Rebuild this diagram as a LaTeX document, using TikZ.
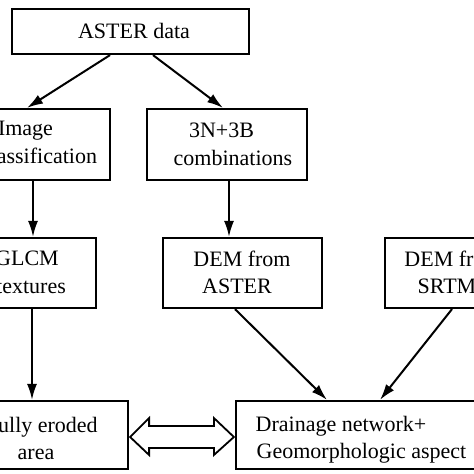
\documentclass[tikz,border=0pt]{standalone}
\usepackage{fontspec}
\setmainfont{Liberation Serif}
\usetikzlibrary{arrows.meta,calc}
\begin{document}
\begin{tikzpicture}[x=1pt,y=-1pt,
  box/.style={draw=black,line width=2.2pt,rectangle,inner sep=0pt,fill=white},
  txt/.style={anchor=base,inner sep=0pt,font=\fontsize{22}{27}\selectfont},
  conn/.style={line width=2pt,-{Latex[length=16pt,width=10pt]}},
  dbl/.style={line width=1.8pt,fill=white,line join=miter}]
\useasboundingbox (0,0) rectangle (474,474);
\clip (0,0) rectangle (474,474);
\fill[white] (0,0) rectangle (474,474);
% boxes
\node[box,minimum width=237pt,minimum height=45pt] (aster) at (130.5,31.5) {};
\node[box,minimum width=140pt,minimum height=71pt] (img) at (40,144.5) {};
\node[box,minimum width=160pt,minimum height=71pt] (comb) at (227,144.5) {};
\node[box,minimum width=126pt,minimum height=70pt] (glcm) at (33,273) {};
\node[box,minimum width=159pt,minimum height=70pt] (dema) at (242.5,273) {};
\node[box,minimum width=135pt,minimum height=70pt] (dems) at (452.5,273) {};
\node[box,minimum width=158pt,minimum height=68pt] (gully) at (49,435) {};
\node[box,minimum width=284pt,minimum height=68pt] (drain) at (378,435) {};
% texts
\node[txt] (t1) at (134,38) {ASTER data};
\node[txt] (t2a) at (25.5,135) {Image};
\node[txt] (t2b) at (39,163) {classification};
\node[txt] (t3a) at (221.5,137) {3N+3B};
\node[txt] (t3b) at (233,165) {combinations};
\node[txt] (t4a) at (27,265) {GLCM};
\node[txt] (t4b) at (31,293) {textures};
\node[txt] (t5a) at (242,266) {DEM from};
\node[txt] (t5b) at (237,293) {ASTER};
\node[txt] (t6a) at (453,266) {DEM from};
\node[txt] (t6b) at (447,293) {SRTM};
\node[txt] (t7a) at (40,432) {Gully eroded};
\node[txt] (t7b) at (36,459) {area};
\node[txt] (t8a) at (341,431) {Drainage network+};
\node[txt] (t8b) at (361.5,458) {Geomorphologic aspect};
% connectors
\draw[conn] (aster.south -| 110,0) -- (img.north -| 27,0);
\draw[conn] (aster.south -| 153,0) -- (comb.north -| 223,0);
\draw[conn] (img.south -| 33,0) -- (glcm.north -| 33,0);
\draw[conn] (comb.south -| 229,0) -- (dema.north -| 229,0);
\draw[conn] (glcm.south -| 32,0) -- (gully.north -| 32,0);
\draw[conn] (dema.south -| 235,0) -- (drain.north -| 327,0);
\draw[conn] (dems.south -| 452,0) -- (drain.north -| 380,0);
% double hollow arrow
\coordinate (L) at ($(gully.east)+(1,2)$);
\coordinate (R) at ($(drain.west)+(-1,2)$);
\draw[dbl] (L) -- ++(19,-19) -- ++(0,8) -- ($(R)+(-20,-11)$) -- ++(0,-8) -- (R)
  -- ++(-20,18) -- ++(0,-7) -- ($(L)+(19,11)$) -- ++(0,7) -- cycle;
\end{tikzpicture}
\end{document}
